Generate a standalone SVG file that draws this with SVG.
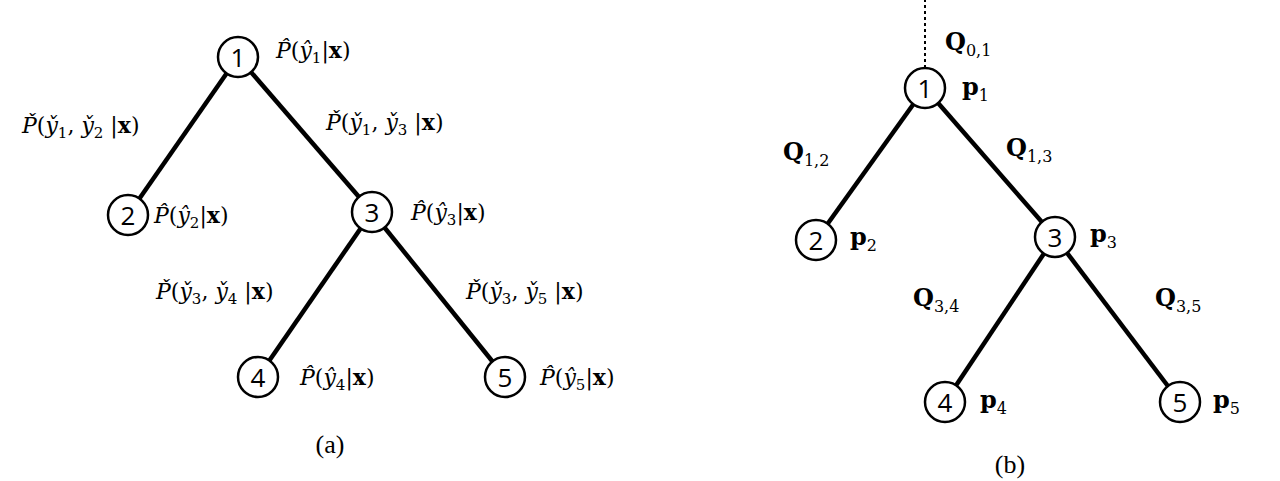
<svg xmlns="http://www.w3.org/2000/svg" width="1280" height="481" viewBox="0 0 1280 481">
<style>
.n{fill:#fff;stroke:#000;stroke-width:2.5}
.e{stroke:#000;stroke-width:4.5;fill:none}
.d{font-family:"Open Sans","DejaVu Sans",sans-serif;font-size:26px;text-anchor:middle;dominant-baseline:central}
.m{font-family:"DejaVu Serif","Liberation Serif",serif;font-size:22px}
.i{font-style:italic}
.b{font-weight:bold}
.q{font-family:"DejaVu Serif",serif;font-size:24px;font-weight:bold}
.s{font-weight:normal;font-size:16px}
.cap{font-family:"Liberation Serif",serif;font-size:26px;text-anchor:middle}
</style>
<rect width="1280" height="481" fill="#fff"/>
<g id="connectors">
<line class="e" x1="238" y1="57" x2="128" y2="215"/>
<line class="e" x1="238" y1="57" x2="372" y2="212"/>
<line class="e" x1="372" y1="212" x2="258" y2="377"/>
<line class="e" x1="372" y1="212" x2="505" y2="377"/>
<line x1="925" y1="68" x2="925" y2="0" stroke="#000" stroke-width="2" stroke-dasharray="3,3"/>
<line class="e" x1="925" y1="88" x2="816" y2="240"/>
<line class="e" x1="925" y1="88" x2="1055" y2="237"/>
<line class="e" x1="1055" y1="237" x2="945" y2="402"/>
<line class="e" x1="1055" y1="237" x2="1180" y2="402"/>
</g>
<g id="a1"><circle class="n" cx="238" cy="57" r="20"/><text class="d" x="238" y="57">1</text></g>
<g id="a2"><circle class="n" cx="128" cy="215" r="20"/><text class="d" x="128" y="215">2</text></g>
<g id="a3"><circle class="n" cx="372" cy="212" r="20"/><text class="d" x="372" y="212">3</text></g>
<g id="a4"><circle class="n" cx="258" cy="377" r="20"/><text class="d" x="258" y="377">4</text></g>
<g id="a5"><circle class="n" cx="505" cy="377" r="20"/><text class="d" x="505" y="377">5</text></g>
<g id="b1"><circle class="n" cx="925" cy="88" r="20"/><text class="d" x="925" y="88">1</text></g>
<g id="b2"><circle class="n" cx="816" cy="240" r="20"/><text class="d" x="816" y="240">2</text></g>
<g id="b3"><circle class="n" cx="1055" cy="237" r="20"/><text class="d" x="1055" y="237">3</text></g>
<g id="b4"><circle class="n" cx="945" cy="402" r="20"/><text class="d" x="945" y="402">4</text></g>
<g id="b5"><circle class="n" cx="1180" cy="402" r="20"/><text class="d" x="1180" y="402">5</text></g>
<g id="labels-a" class="m">
<text x="276" y="58"><tspan class="i">P̂</tspan>(<tspan class="i">ŷ</tspan><tspan font-size="15" dy="5">1</tspan><tspan dy="-5">|</tspan><tspan class="b">x</tspan>)</text>
<text x="22" y="133"><tspan class="i">P̌</tspan>(<tspan class="i">y̌</tspan><tspan font-size="15" dy="5">1</tspan><tspan dy="-5">, </tspan><tspan class="i">y̌</tspan><tspan font-size="15" dy="5">2</tspan><tspan dy="-5"> |</tspan><tspan class="b">x</tspan>)</text>
<text x="326" y="130"><tspan class="i">P̌</tspan>(<tspan class="i">y̌</tspan><tspan font-size="15" dy="5">1</tspan><tspan dy="-5">, </tspan><tspan class="i">y̌</tspan><tspan font-size="15" dy="5">3</tspan><tspan dy="-5"> |</tspan><tspan class="b">x</tspan>)</text>
<text x="154" y="223"><tspan class="i">P̂</tspan>(<tspan class="i">ŷ</tspan><tspan font-size="15" dy="5">2</tspan><tspan dy="-5">|</tspan><tspan class="b">x</tspan>)</text>
<text x="411" y="220"><tspan class="i">P̂</tspan>(<tspan class="i">ŷ</tspan><tspan font-size="15" dy="5">3</tspan><tspan dy="-5">|</tspan><tspan class="b">x</tspan>)</text>
<text x="156" y="299"><tspan class="i">P̌</tspan>(<tspan class="i">y̌</tspan><tspan font-size="15" dy="5">3</tspan><tspan dy="-5">, </tspan><tspan class="i">y̌</tspan><tspan font-size="15" dy="5">4</tspan><tspan dy="-5"> |</tspan><tspan class="b">x</tspan>)</text>
<text x="466" y="299"><tspan class="i">P̌</tspan>(<tspan class="i">y̌</tspan><tspan font-size="15" dy="5">3</tspan><tspan dy="-5">, </tspan><tspan class="i">y̌</tspan><tspan font-size="15" dy="5">5</tspan><tspan dy="-5"> |</tspan><tspan class="b">x</tspan>)</text>
<text x="300" y="385"><tspan class="i">P̂</tspan>(<tspan class="i">ŷ</tspan><tspan font-size="15" dy="5">4</tspan><tspan dy="-5">|</tspan><tspan class="b">x</tspan>)</text>
<text x="540" y="385"><tspan class="i">P̂</tspan>(<tspan class="i">ŷ</tspan><tspan font-size="15" dy="5">5</tspan><tspan dy="-5">|</tspan><tspan class="b">x</tspan>)</text>
</g>
<g id="labels-b" class="q">
<text x="945" y="50">Q<tspan class="s" dy="6">0,1</tspan></text>
<text x="962" y="95">p<tspan class="s" dy="6">1</tspan></text>
<text x="783" y="160">Q<tspan class="s" dy="6">1,2</tspan></text>
<text x="1006" y="156">Q<tspan class="s" dy="6">1,3</tspan></text>
<text x="850" y="245">p<tspan class="s" dy="6">2</tspan></text>
<text x="1090" y="242">p<tspan class="s" dy="6">3</tspan></text>
<text x="913" y="306">Q<tspan class="s" dy="6">3,4</tspan></text>
<text x="1155" y="306">Q<tspan class="s" dy="6">3,5</tspan></text>
<text x="980" y="408">p<tspan class="s" dy="6">4</tspan></text>
<text x="1213" y="408">p<tspan class="s" dy="6">5</tspan></text>
</g>
<text class="cap" x="330" y="453">(a)</text>
<text class="cap" x="1010" y="473">(b)</text>
</svg>
